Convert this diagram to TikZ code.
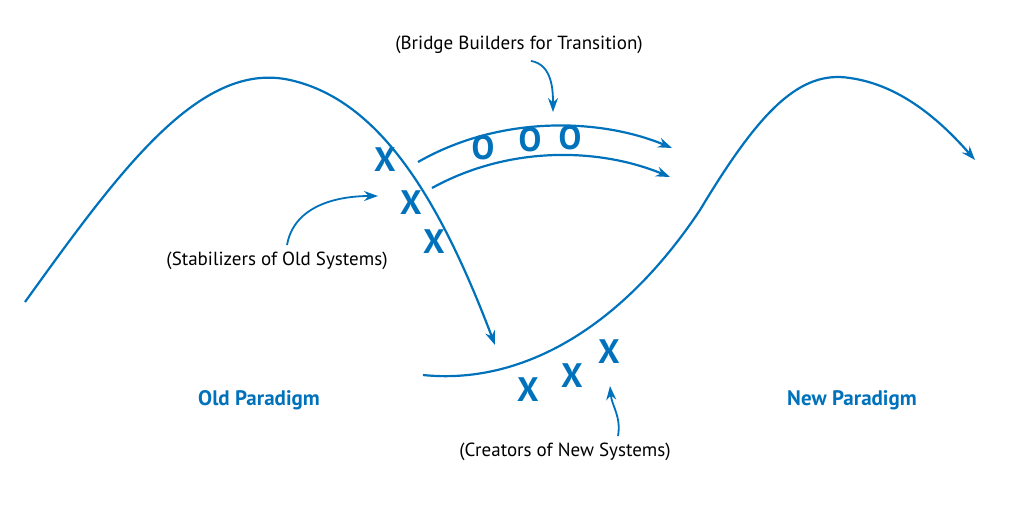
\documentclass[tikz,border=0pt]{standalone}
\usepackage{fontspec}
\setmainfont{PT Sans}
\usetikzlibrary{arrows.meta}
\definecolor{paradigm}{RGB}{0,114,188}
\tikzset{
  wave/.style={draw=paradigm, line width=1.1pt},
  player/.style={text=paradigm, font=\fontsize{17}{17}\selectfont\bfseries},
  note/.style={font=\fontsize{9.5}{10}\selectfont},
  title/.style={text=paradigm, font=\fontsize{10.5}{12}\selectfont\bfseries},
}
\begin{document}
\begin{tikzpicture}[x=0.5pt, y=-0.5pt, >={Stealth[length=7pt,width=5pt]}]
\useasboundingbox (0,0) rectangle (1024,511);

% old and new paradigm waves
\draw[wave, ->] (25,302) .. controls (120,170) and (200,60) .. (290,80)
    .. controls (380,100) and (440,200) .. (495,345);
\draw[wave, ->] (423,375) .. controls (520,385) and (620,330) .. (700,210)
    .. controls (760,110) and (800,70) .. (850,78)
    .. controls (900,85) and (940,120) .. (975,160);

% bridge arrows
\draw[wave, ->] (418,162) .. controls (500,115) and (600,118) .. (672,148);
\draw[wave, ->] (432,188) .. controls (510,145) and (600,148) .. (670,177);

% marks
\foreach \p/\n in {{(385,160)}/x1, {(411,203)}/x2, {(434,242)}/x3,
                   {(528,390)}/x4, {(572,376)}/x5, {(609,352)}/x6}
  \node[player] (\n) at \p {X};
\foreach \p/\n in {{(483,148)}/o1, {(530,140)}/o2, {(570,138)}/o3}
  \node[player] (\n) at \p {O};

% labels
\node[note] (bridge) at (519,45) {(Bridge Builders for Transition)};
\node[note] (stable) at (277,261) {(Stabilizers of Old Systems)};
\node[note] (create) at (565,452) {(Creators of New Systems)};
\node[title] (old) at (259,400) {Old Paradigm};
\node[title] (new) at (852,400) {New Paradigm};

\coordinate (bridgetip) at (553,112);
\coordinate (stabletip) at (378,196);
\coordinate (createtip) at (610,386);
\draw[wave, line width=0.9pt, ->] (bridge.south) ++(12,0) to[out=-10, in=90] (bridgetip);
\draw[wave, line width=0.9pt, ->] (stable.north) ++(10,0) to[out=80, in=180] (stabletip);
\draw[wave, line width=0.9pt, ->] (create.north) ++(53,0) to[out=80, in=-85] (createtip);
\end{tikzpicture}
\end{document}
